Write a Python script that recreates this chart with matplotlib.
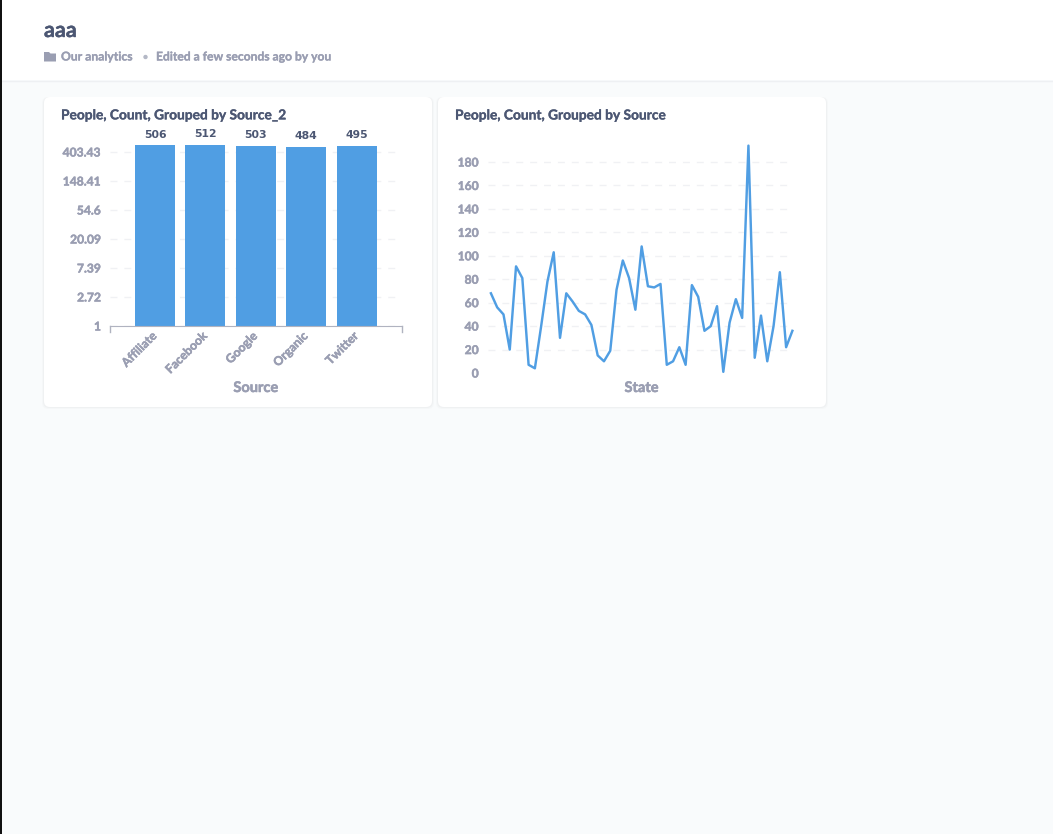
import numpy as np
import matplotlib
matplotlib.use("Agg")
import matplotlib.pyplot as plt
import matplotlib.patheffects as pe
from matplotlib.patches import FancyBboxPatch, Rectangle, Circle, Polygon
from matplotlib.transforms import ScaledTranslation

plt.rcParams['font.family'] = ['Lato', 'DejaVu Sans']

sources = ["Affiliate", "Facebook", "Google", "Organic", "Twitter"]
source_counts = [506, 512, 503, 484, 495]
log_ticks = [1, 2.72, 7.39, 20.09, 54.6, 148.41, 403.43]
log_tick_labels = ["1", "2.72", "7.39", "20.09", "54.6", "148.41", "403.43"]

state_counts = [68, 56, 50, 20, 91, 81, 7, 4, 40, 78, 103, 30, 68, 61, 53, 50, 41,
                15, 10, 19, 71, 96, 81, 54, 108, 74, 73, 76, 7, 10, 22, 7, 75, 65,
                36, 40, 57, 1, 43, 63, 47, 194, 13, 49, 10, 40, 86, 22, 36]
line_ticks = [0, 20, 40, 60, 80, 100, 120, 140, 160, 180]

W, H = 1053, 834
BG = "#F9FBFC"
BLUE = "#509EE3"
DARK = "#4C5773"
GREY = "#9A9EB2"
GRID = "#F0F1F4"

def heavy(artist, lw=0.45):
    artist.set_path_effects([pe.withStroke(linewidth=lw, foreground=artist.get_color())])
    return artist

fig = plt.figure(figsize=(W / 100, H / 100), dpi=100, facecolor=BG)

def px_axes(x0, y0, x1, y1, **kw):
    return fig.add_axes([x0 / W, 1 - y1 / H, (x1 - x0) / W, (y1 - y0) / H], **kw)

bg = fig.add_axes([0, 0, 1, 1], zorder=0)
bg.set_xlim(0, W)
bg.set_ylim(H, 0)
bg.axis("off")
bg.add_patch(Rectangle((0, 0), W, 80, fc="white", ec="none"))
bg.plot([0, W], [80.5, 80.5], color="#EEF0F3", lw=1)
bg.add_patch(Rectangle((0, 0), 2, H, fc="#111111", ec="none", zorder=5))

for x0 in (44, 438):
    for off, alpha in ((2.0, 0.015), (1.0, 0.025)):
        bg.add_patch(FancyBboxPatch((x0 + 6 - off, 103), 376 + 2 * off, 298 + off,
                                    boxstyle="round,pad=6,rounding_size=6",
                                    fc="black", ec="none", alpha=alpha))
    bg.add_patch(FancyBboxPatch((x0 + 6, 103), 376, 298,
                                boxstyle="round,pad=6,rounding_size=6", fc="white", ec="none"))

heavy(bg.text(44, 30.5, "aaa", fontsize=15.5, color=DARK, fontweight="bold", va="center", ha="left"), 0.3)
bg.add_patch(Polygon([(44, 52), (49, 52), (50.5, 53.5), (56, 53.5), (56, 61.5), (44, 61.5)], fc=GREY, ec="none"))
heavy(bg.text(61, 57, "Our analytics", fontsize=8.75, color=GREY, fontweight="bold", va="center", ha="left"), 0.2)
bg.add_patch(Circle((145.5, 57), 2.2, fc="#B4B8C6", ec="none"))
heavy(bg.text(156, 57, "Edited a few seconds ago by you", fontsize=8.7, color=GREY, fontweight="bold", va="center", ha="left"), 0.2)
heavy(bg.text(61, 115.5, "People, Count, Grouped by Source_2", fontsize=9.9, color=DARK, fontweight="bold", va="center", ha="left"), 0.2)
heavy(bg.text(455, 115.5, "People, Count, Grouped by Source", fontsize=9.9, color=DARK, fontweight="bold", va="center", ha="left"), 0.2)

# Bar chart
top1 = 130.0
bottom1 = 326.0
ax1 = px_axes(110, top1, 402, bottom1, zorder=2)
ax1.patch.set_alpha(0)
ax1.set_yscale("log", base=np.e)
ax1.set_ylim(1, np.exp((bottom1 - top1) / 29.0))
ax1.set_xlim(-0.893, 4.9)
xs = np.arange(len(sources))
ax1.bar(xs, source_counts, width=0.795, color=BLUE, zorder=3)
ax1.set_yticks(log_ticks)
ax1.set_yticklabels(log_tick_labels)
ax1.yaxis.set_minor_locator(matplotlib.ticker.NullLocator())
ax1.set_xticks(xs)
ax1.set_xticklabels(sources, rotation=45, ha="right", rotation_mode="anchor",
                    fontsize=8.8, color=GREY, fontweight="bold")
ax1.tick_params(axis="x", length=0, pad=6)
ax1.tick_params(axis="y", length=0, pad=6.5, labelsize=8.7, labelcolor=GREY)
shift = ScaledTranslation(-4 / 100, 4 / 100, fig.dpi_scale_trans)
for lab in ax1.get_xticklabels():
    lab.set_transform(lab.get_transform() + shift)
for lab in ax1.get_yticklabels() + ax1.get_xticklabels():
    lab.set_fontweight("bold")
    heavy(lab, 0.35)
ax1.grid(axis="y", color=GRID, lw=1, ls=(0, (5, 5)), zorder=1)
for s in ("top", "left", "right"):
    ax1.spines[s].set_visible(False)
ax1.spines["bottom"].set_color("#B0B3C0")
ax1.spines["bottom"].set_zorder(4)
for xv in ax1.get_xlim():
    ax1.plot([xv, xv], [0, -0.032], transform=ax1.get_xaxis_transform(), color="#B0B3C0",
             lw=1, clip_on=False, zorder=4)
for x, v in zip(xs, source_counts):
    ax1.annotate(str(v), (x, v), xytext=(0, 4.2), textcoords="offset points", ha="center", va="bottom",
                 fontsize=7.8, color=DARK, fontweight="bold", family="DejaVu Sans", annotation_clip=False)
ax1.set_xlabel("Source", fontsize=10.5, color=GREY, fontweight="bold")
ax1.xaxis.set_label_coords((256 - 110) / 292, -(388 - bottom1) / (bottom1 - top1))
ax1.xaxis.label.set_va("center")
heavy(ax1.xaxis.label, 0.4)

# Line chart
ax2 = px_axes(488.4, 144.5, 793.4, 373, zorder=2)
ax2.patch.set_alpha(0)
ax2.set_ylim(0, 228.5 / 1.172)
ax2.set_xlim(-0.4, 48.16)
ax2.plot(np.arange(len(state_counts)), state_counts, color=BLUE, lw=1.75, zorder=3, clip_on=False)
ax2.set_yticks(line_ticks)
ax2.set_xticks([])
ax2.tick_params(axis="y", length=0, pad=7, labelsize=8.7, labelcolor=GREY)
for lab in ax2.get_yticklabels():
    lab.set_fontweight("bold")
    heavy(lab, 0.35)
ax2.grid(axis="y", color=GRID, lw=1, ls=(0, (5, 5)), zorder=1)
ax2.get_ygridlines()[0].set_visible(False)
for s in ax2.spines.values():
    s.set_visible(False)
ax2.set_xlabel("State", fontsize=10.5, color=GREY, fontweight="bold")
ax2.xaxis.set_label_coords((641.5 - 488.4) / 305, -(388 - 373) / 228.5)
ax2.xaxis.label.set_va("center")
heavy(ax2.xaxis.label, 0.4)

fig.savefig("out.png", dpi=100, facecolor=BG)
